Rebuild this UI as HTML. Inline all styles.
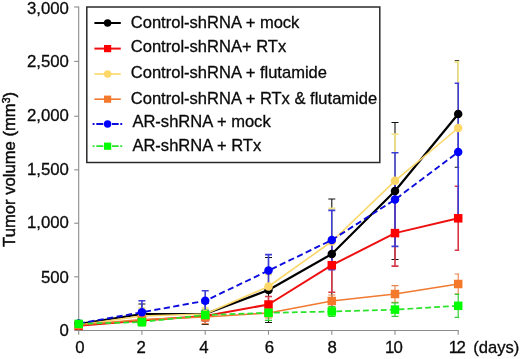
<!DOCTYPE html>
<html><head><meta charset="utf-8"><title>Tumor volume</title>
<style>
html,body{margin:0;padding:0;background:#fff;}
body{width:520px;height:359px;overflow:hidden;}
svg{display:block;}
text{font-family:"Liberation Sans",Arial,sans-serif;fill:#0a0a0a;stroke:#0a0a0a;stroke-width:0.3px;}
</style></head><body>
<svg width="520" height="359" viewBox="0 0 520 359">
<defs><clipPath id="plot"><rect x="70" y="0" width="389.2" height="340"/></clipPath></defs>
<rect width="520" height="359" fill="#ffffff"/>

<g stroke="#8c8c8c" stroke-width="1.1" fill="none">
<line x1="78.7" y1="6.5" x2="78.7" y2="334.7"/>
<line x1="74.2" y1="330.5" x2="458.7" y2="330.5"/>
<line x1="74.2" y1="276.85" x2="78.7" y2="276.85"/>
<line x1="74.2" y1="223.20" x2="78.7" y2="223.20"/>
<line x1="74.2" y1="169.85" x2="78.7" y2="169.85"/>
<line x1="74.2" y1="116.25" x2="78.7" y2="116.25"/>
<line x1="74.2" y1="61.40" x2="78.7" y2="61.40"/>
<line x1="74.2" y1="7.00" x2="78.7" y2="7.00"/>
<line x1="141.9" y1="330.5" x2="141.9" y2="334.7"/>
<line x1="205.2" y1="330.5" x2="205.2" y2="334.7"/>
<line x1="268.5" y1="330.5" x2="268.5" y2="334.7"/>
<line x1="331.8" y1="330.5" x2="331.8" y2="334.7"/>
<line x1="395.0" y1="330.5" x2="395.0" y2="334.7"/>
<line x1="458.2" y1="330.5" x2="458.2" y2="334.7"/>
</g>
<g font-size="16.8" text-anchor="end">
<text x="68.9" y="336.15">0</text>
<text x="68.9" y="282.55">500</text>
<text x="68.9" y="227.65">1,000</text>
<text x="68.9" y="174.55">1,500</text>
<text x="68.9" y="121.05">2,000</text>
<text x="68.9" y="67.35">2,500</text>
<text x="68.9" y="13.50">3,000</text>
</g>
<g font-size="16.8" text-anchor="middle">
<text x="79.8" y="353.3">0</text>
<text x="141.25" y="353.3">2</text>
<text x="203.9" y="353.3">4</text>
<text x="269.5" y="353.3">6</text>
<text x="332.2" y="353.3">8</text>
<text x="393.6" y="353.3" letter-spacing="-0.8">10</text>
<text x="456.6" y="353.3" letter-spacing="-1.6">12</text>
</g>
<text x="473.2" y="353.3" font-size="16.6">(days)</text>
<text transform="translate(15.4 246.9) rotate(-90)" font-size="16.65" style="stroke-width:0.45px">Tumor volume (mm<tspan font-size="10.5" dy="-5.5">3</tspan><tspan dy="5.5">)</tspan></text>
<g clip-path="url(#plot)" fill="none">
<g stroke="#111111" stroke-width="1.1">
<path d="M141.9 304.0V324.0M138.4 304.0h7M138.4 324.0h7"/>
<path d="M205.2 303.5V324.5M201.7 303.5h7M201.7 324.5h7"/>
<path d="M268.5 257.5V322.5M265.0 257.5h7M265.0 322.5h7"/>
<path d="M331.8 199.0V309.0M328.3 199.0h7M328.3 309.0h7"/>
<path d="M395.0 122.5V259.5M391.5 122.5h7M391.5 259.5h7"/>
<path d="M458.2 60.7V167.3M454.7 60.7h7M454.7 167.3h7"/>
</g>
<g stroke="#d63848" stroke-width="1.6">
<path d="M141.9 316.5V324.5M138.4 316.5h7M138.4 324.5h7"/>
<path d="M205.2 311.0V321.0M201.7 311.0h7M201.7 321.0h7"/>
<path d="M268.5 296.5V312.5M265.0 296.5h7M265.0 312.5h7"/>
<path d="M331.8 238.2V292.2M328.3 238.2h7M328.3 292.2h7"/>
<path d="M395.0 200.1V266.1M391.5 200.1h7M391.5 266.1h7"/>
<path d="M458.2 186.3V250.3M454.7 186.3h7M454.7 250.3h7"/>
</g>
<g stroke="#f3e58a" stroke-width="1.8">
<path d="M141.9 308.0V316.0M138.4 308.0h7"/>
<path d="M205.2 308.0V314.0M201.7 308.0h7"/>
<path d="M268.5 274.5V286.5M265.0 274.5h7"/>
<path d="M331.8 208.5V241.5M328.3 208.5h7"/>
<path d="M395.0 134.2V180.8M391.5 134.2h7"/>
<path d="M458.2 62.0V128.0M454.7 62.0h7"/>
</g>
<g stroke="#e8854a" stroke-width="1.1">
<path d="M141.9 315.5V323.5M138.4 315.5h7M138.4 323.5h7"/>
<path d="M205.2 310.4V323.6M201.7 310.4h7M201.7 323.6h7"/>
<path d="M268.5 308.0V318.0M265.0 308.0h7M265.0 318.0h7"/>
<path d="M331.8 295.0V307.0M328.3 295.0h7M328.3 307.0h7"/>
<path d="M395.0 285.6V302.4M391.5 285.6h7M391.5 302.4h7"/>
<path d="M458.2 274.0V294.0M454.7 274.0h7M454.7 294.0h7"/>
</g>
<g stroke="#3c3cd8" stroke-width="1.6">
<path d="M141.9 300.8V323.8M138.4 300.8h7M138.4 323.8h7"/>
<path d="M205.2 290.8V310.8M201.7 290.8h7M201.7 310.8h7"/>
<path d="M268.5 254.6V286.6M265.0 254.6h7M265.0 286.6h7"/>
<path d="M331.8 210.4V269.6M328.3 210.4h7M328.3 269.6h7"/>
<path d="M395.0 152.8V246.4M391.5 152.8h7M391.5 246.4h7"/>
<path d="M458.2 83.3V220.7M454.7 83.3h7M454.7 220.7h7"/>
</g>
<g stroke="#30d030" stroke-width="1.2">
<path d="M141.9 318.0V326.0M138.4 318.0h7M138.4 326.0h7"/>
<path d="M205.2 310.0V320.0M201.7 310.0h7M201.7 320.0h7"/>
<path d="M268.5 305.2V320.4M265.0 305.2h7M265.0 320.4h7"/>
<path d="M331.8 306.5V316.5M328.3 306.5h7M328.3 316.5h7"/>
<path d="M395.0 302.9V316.3M391.5 302.9h7M391.5 316.3h7"/>
<path d="M458.2 294.3V317.3M454.7 294.3h7M454.7 317.3h7"/>
</g>
</g>
<polyline points="78.7,324 141.9,314 205.2,314 268.5,290 331.8,254 395.0,191 458.2,114" fill="none" stroke="#000000" stroke-width="2.2" stroke-linejoin="round"/>
<g fill="#000000">
<circle cx="78.7" cy="324" r="4.25"/>
<circle cx="141.9" cy="314" r="4.25"/>
<circle cx="205.2" cy="314" r="4.25"/>
<circle cx="268.5" cy="290" r="4.25"/>
<circle cx="331.8" cy="254" r="4.25"/>
<circle cx="395.0" cy="191" r="4.25"/>
<circle cx="458.2" cy="114" r="4.25"/>
</g>
<polyline points="78.7,325.8 141.9,320.5 205.2,316 268.5,304.5 331.8,265.2 395.0,233.1 458.2,218.3" fill="none" stroke="#ee1010" stroke-width="2.0" stroke-linejoin="round"/>
<g fill="#ff0000">
<rect x="74.45" y="321.55" width="8.5" height="8.5"/>
<rect x="137.65" y="316.25" width="8.5" height="8.5"/>
<rect x="200.95" y="311.75" width="8.5" height="8.5"/>
<rect x="264.25" y="300.25" width="8.5" height="8.5"/>
<rect x="327.55" y="260.95" width="8.5" height="8.5"/>
<rect x="390.75" y="228.85" width="8.5" height="8.5"/>
<rect x="453.95" y="214.05" width="8.5" height="8.5"/>
</g>
<polyline points="78.7,325 141.9,316 205.2,314 268.5,286.5 331.8,241.5 395.0,180.8 458.2,128" fill="none" stroke="#fbd86a" stroke-width="1.6" stroke-linejoin="round"/>
<g fill="#fdd767">
<circle cx="78.7" cy="325" r="4.25"/>
<circle cx="141.9" cy="316" r="4.25"/>
<circle cx="205.2" cy="314" r="4.25"/>
<circle cx="268.5" cy="286.5" r="4.25"/>
<circle cx="331.8" cy="241.5" r="4.25"/>
<circle cx="395.0" cy="180.8" r="4.25"/>
<circle cx="458.2" cy="128" r="4.25"/>
</g>
<polyline points="78.7,325 141.9,319.5 205.2,317 268.5,313 331.8,301 395.0,294 458.2,284" fill="none" stroke="#f07a30" stroke-width="1.6" stroke-linejoin="round"/>
<g fill="#f4792c">
<rect x="74.45" y="320.75" width="8.5" height="8.5"/>
<rect x="137.65" y="315.25" width="8.5" height="8.5"/>
<rect x="200.95" y="312.75" width="8.5" height="8.5"/>
<rect x="264.25" y="308.75" width="8.5" height="8.5"/>
<rect x="327.55" y="296.75" width="8.5" height="8.5"/>
<rect x="390.75" y="289.75" width="8.5" height="8.5"/>
<rect x="453.95" y="279.75" width="8.5" height="8.5"/>
</g>
<polyline points="78.7,323.5 141.9,312.3 205.2,300.8 268.5,270.6 331.8,240 395.0,199.6 458.2,152" fill="none" stroke="#0c0cdc" stroke-width="1.9" stroke-linejoin="round" stroke-dasharray="6.2 3.4"/>
<g fill="#0000ff">
<circle cx="78.7" cy="323.5" r="4.25"/>
<circle cx="141.9" cy="312.3" r="4.25"/>
<circle cx="205.2" cy="300.8" r="4.25"/>
<circle cx="268.5" cy="270.6" r="4.25"/>
<circle cx="331.8" cy="240" r="4.25"/>
<circle cx="395.0" cy="199.6" r="4.25"/>
<circle cx="458.2" cy="152" r="4.25"/>
</g>
<polyline points="78.7,323.9 141.9,322 205.2,315 268.5,312.8 331.8,311.5 395.0,309.6 458.2,305.8" fill="none" stroke="#2ae42a" stroke-width="1.75" stroke-linejoin="round" stroke-dasharray="5.8 3.1"/>
<g fill="#00ff00">
<rect x="74.45" y="319.65" width="8.5" height="8.5"/>
<rect x="137.65" y="317.75" width="8.5" height="8.5"/>
<rect x="200.95" y="310.75" width="8.5" height="8.5"/>
<rect x="264.25" y="308.55" width="8.5" height="8.5"/>
<rect x="327.55" y="307.25" width="8.5" height="8.5"/>
<rect x="390.75" y="305.35" width="8.5" height="8.5"/>
<rect x="453.95" y="301.55" width="8.5" height="8.5"/>
</g>
<rect x="86.8" y="7" width="293" height="155.5" fill="#ffffff" stroke="#2a2a2a" stroke-width="1.5"/>
<line x1="94.4" y1="23.0" x2="120.8" y2="23.0" stroke="#000000" stroke-width="2.0"/>
<circle cx="107.6" cy="23.0" r="3.7" fill="#000000"/>
<text x="130.8" y="28.0" font-size="16.55">Control-shRNA + mock</text>
<line x1="94.4" y1="48.6" x2="120.8" y2="48.6" stroke="#ee1010" stroke-width="2.0"/>
<rect x="104" y="45.0" width="7.2" height="7.2" fill="#ff0000"/>
<text x="130.8" y="52.0" font-size="16.55">Control-shRNA+ RTx</text>
<line x1="94.4" y1="74" x2="120.8" y2="74" stroke="#fbd86a" stroke-width="1.6"/>
<circle cx="107.6" cy="74" r="3.7" fill="#fdd767"/>
<text x="130.8" y="78.1" font-size="16.55">Control-shRNA + flutamide</text>
<line x1="94.4" y1="99.2" x2="120.8" y2="99.2" stroke="#f07a30" stroke-width="1.6"/>
<rect x="104" y="95.60000000000001" width="7.2" height="7.2" fill="#f4792c"/>
<text x="130.8" y="103.9" font-size="16.55">Control-shRNA + RTx &amp; flutamide</text>
<path d="M92.6 124h1.9M96.3 124h7M111.9 124h6.8M120.3 124h1.9" stroke="#0c0cdc" stroke-width="1.8" fill="none"/>
<circle cx="107.6" cy="124" r="3.7" fill="#0000ff"/>
<text x="132.4" y="126.8" font-size="16.55">AR-shRNA + mock</text>
<path d="M92.6 146.2h1.9M96.3 146.2h7M111.9 146.2h6.8M120.3 146.2h1.9" stroke="#2ae42a" stroke-width="1.8" fill="none"/>
<rect x="104" y="142.6" width="7.2" height="7.2" fill="#00ff00"/>
<text x="132.4" y="151.3" font-size="16.55">AR-shRNA + RTx</text>
</svg></body></html>
